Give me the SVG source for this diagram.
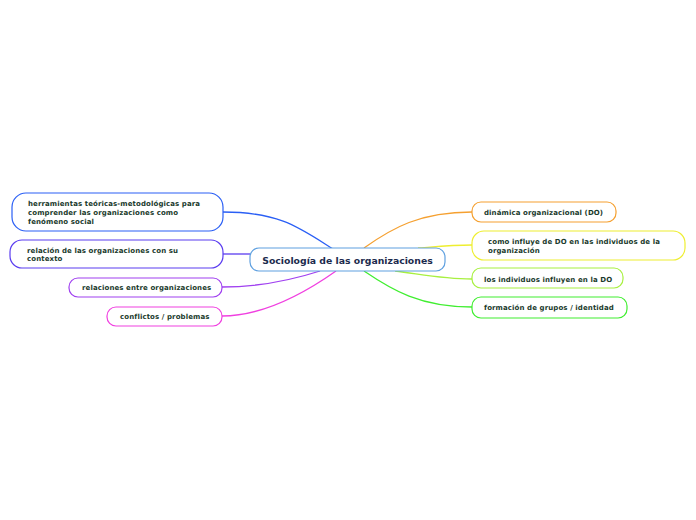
<svg xmlns="http://www.w3.org/2000/svg" width="696" height="520" viewBox="0 0 696 520">
<style>
.n{fill:#ffffff;stroke-width:1.2}
.t{font-family:"DejaVu Sans",Verdana,sans-serif;font-weight:bold;font-size:7px;letter-spacing:0.1px;fill:#1a3a2c}
.c{font-family:"DejaVu Sans",Verdana,sans-serif;font-weight:bold;font-size:9.3px;fill:#1c2b4d}
.l{fill:none;stroke-width:1.3}
</style>
<rect width="696" height="520" fill="#ffffff"/>
<g id="connectors">
<path class="l" stroke="#2a5ff5" d="M223,212 C280,212 300,228 333,249"/>
<path class="l" stroke="#5a3cf0" d="M223,254 L250,254"/>
<path class="l" stroke="#a040f0" d="M222,287 C262,287 292,280 320,271"/>
<path class="l" stroke="#f040e0" d="M222,316 C262,316 302,295 336,271"/>
<path class="l" stroke="#f5a030" d="M472,212 C420,212 392,228 364,248"/>
<path class="l" stroke="#eeee30" d="M472,245 C452,245 432,247 418,248"/>
<path class="l" stroke="#a8f040" d="M472,279 C442,279 420,274 395,271"/>
<path class="l" stroke="#40ee30" d="M472,307 C420,307 392,290 364,271"/>
</g>
<g id="central">
<rect class="n" x="250" y="248" width="195" height="23" rx="9" stroke="#5fa0e0"/>
<text class="c" x="347.5" y="263.5" text-anchor="middle">Sociología de las organizaciones</text>
</g>
<g id="herramientas">
<rect class="n" x="12" y="193" width="211" height="38" rx="14" stroke="#2a5ff5"/>
<text class="t" x="28" y="205.5">herramientas teóricas-metodológicas para</text>
<text class="t" x="28" y="214.5">comprender las organizaciones como</text>
<text class="t" x="28" y="223.5">fenómeno social</text>
</g>
<g id="relacion-contexto">
<rect class="n" x="10" y="240" width="213" height="28" rx="12" stroke="#5a3cf0"/>
<text class="t" x="27" y="253">relación de las organizaciones con su</text>
<text class="t" x="27" y="261">contexto</text>
</g>
<g id="relaciones-entre">
<rect class="n" x="69" y="278" width="153" height="19" rx="9" stroke="#a040f0"/>
<text class="t" x="82" y="290">relaciones entre organizaciones</text>
</g>
<g id="conflictos">
<rect class="n" x="107" y="307" width="115" height="19" rx="9" stroke="#f040e0"/>
<text class="t" x="120" y="319">conflictos / problemas</text>
</g>
<g id="dinamica">
<rect class="n" x="472" y="202" width="144" height="20" rx="9" stroke="#f5a030"/>
<text class="t" x="484" y="215">dinámica organizacional (DO)</text>
</g>
<g id="como-influye">
<rect class="n" x="472" y="231" width="213" height="29" rx="12" stroke="#eeee30"/>
<text class="t" x="488" y="244">como influye de DO en las individuos de la</text>
<text class="t" x="488" y="253">organización</text>
</g>
<g id="individuos">
<rect class="n" x="472" y="268" width="151" height="20" rx="9" stroke="#a8f040"/>
<text class="t" x="484" y="281.5">los individuos influyen en la DO</text>
</g>
<g id="formacion">
<rect class="n" x="472" y="297" width="155" height="21" rx="9" stroke="#40ee30"/>
<text class="t" x="484" y="310">formación de grupos / identidad</text>
</g>
</svg>
